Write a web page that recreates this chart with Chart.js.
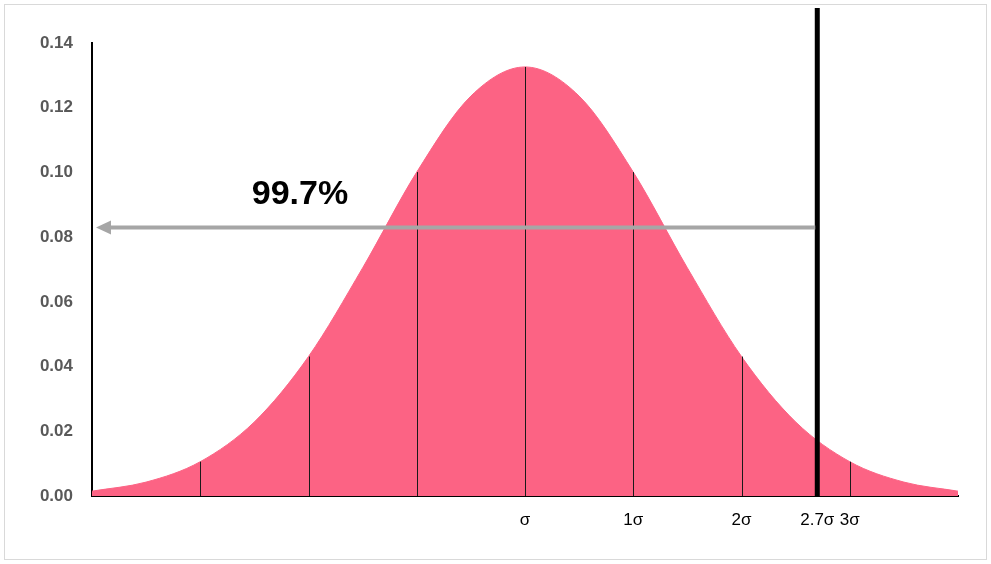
<!DOCTYPE html>
<html><head><meta charset="utf-8">
<script src="https://cdn.jsdelivr.net/npm/chart.js@4"></script>
<style>html,body{margin:0;padding:0;background:#fff}#w{width:991px;height:564px}</style>
</head><body><div id="w"><canvas id="c"></canvas></div>
<script>
const xs = [-4,-3.5,-3,-2.5,-2,-1.5,-1,-0.5,0,0.5,1,1.5,2,2.5,3,3.5,4];
const ys = [0.0015,0.0043,0.0106,0.0229,0.0431,0.0705,0.1001,0.1236,0.1326,0.1236,0.1001,0.0705,0.0431,0.0229,0.0106,0.0043,0.0015];
const markX = [-3,-2,-1,0,1,2,3];
const tickVals = [0,1,2,2.7,3];
const tickLabels = ['σ','1σ','2σ','2.7σ','3σ'];
const cutoff = 2.7;
const arrowY = 0.083;
const pctText = '99.7%';

const deco = {
  id:'deco',
  afterDatasetsDraw(ch){
    const {ctx, scales:{x,y}} = ch;
    ctx.save();
    ctx.strokeStyle='#1a1a1a'; ctx.lineWidth=1;
    markX.forEach(v=>{
      const i = xs.indexOf(v);
      const px = Math.round(x.getPixelForValue(v))+0.5;
      ctx.beginPath(); ctx.moveTo(px,y.getPixelForValue(0)); ctx.lineTo(px,y.getPixelForValue(ys[i])); ctx.stroke();
    });
    const cx = x.getPixelForValue(cutoff);
    ctx.strokeStyle='#000'; ctx.lineWidth=5;
    ctx.beginPath(); ctx.moveTo(cx,8); ctx.lineTo(cx,y.getPixelForValue(0)); ctx.stroke();
    const ay = y.getPixelForValue(arrowY);
    const left = x.left+4;
    ctx.strokeStyle='#a6a6a6'; ctx.fillStyle='#a6a6a6'; ctx.lineWidth=4;
    ctx.beginPath(); ctx.moveTo(cx-2,ay); ctx.lineTo(left+12,ay); ctx.stroke();
    ctx.beginPath(); ctx.moveTo(left,ay); ctx.lineTo(left+15,ay-7); ctx.lineTo(left+15,ay+7); ctx.closePath(); ctx.fill();
    ctx.fillStyle='#000'; ctx.font='bold 34px "Liberation Sans", Arial, sans-serif';
    ctx.textAlign='center'; ctx.textBaseline='middle';
    ctx.fillText(pctText, 300, 195);
    ctx.strokeStyle='#d9d9d9'; ctx.lineWidth=1;
    ctx.strokeRect(4.5,4.5,982,555);
    ctx.restore();
  }
};

new Chart(document.getElementById('c'),{
  type:'line',
  data:{datasets:[{data:xs.map((v,i)=>({x:v,y:ys[i]})),fill:'origin',backgroundColor:'#fc6384',borderColor:'#fc6384',borderWidth:1,pointRadius:0,tension:0,cubicInterpolationMode:'monotone'}]},
  options:{
    responsive:true, maintainAspectRatio:false, animation:false,
    layout:{padding:{left:0,right:33,top:43,bottom:0}},
    plugins:{legend:{display:false},tooltip:{enabled:false}},
    scales:{
      x:{type:'linear',min:-4,max:4,
        grid:{display:false,drawTicks:false},
        border:{display:true,color:'#000',width:2},
        afterBuildTicks(s){s.ticks=tickVals.map(v=>({value:v}));},
        afterFit(s){s.height=68;},
        ticks:{autoSkip:false,maxRotation:0,padding:14,color:'#000',font:{family:'"Liberation Sans", Arial, sans-serif',size:17},
          callback:(v)=>{const i=tickVals.indexOf(v);return i>=0?tickLabels[i]:'';}}
      },
      y:{min:0,max:0.14,
        grid:{display:false,drawTicks:false},
        border:{display:true,color:'#000',width:2},
        afterFit(s){s.width=92;},
        ticks:{stepSize:0.02,padding:19,color:'#595959',font:{family:'"Liberation Sans", Arial, sans-serif',size:17,weight:'bold'},callback:v=>v.toFixed(2)}
      }
    }
  },
  plugins:[deco]
});
</script></body></html>
